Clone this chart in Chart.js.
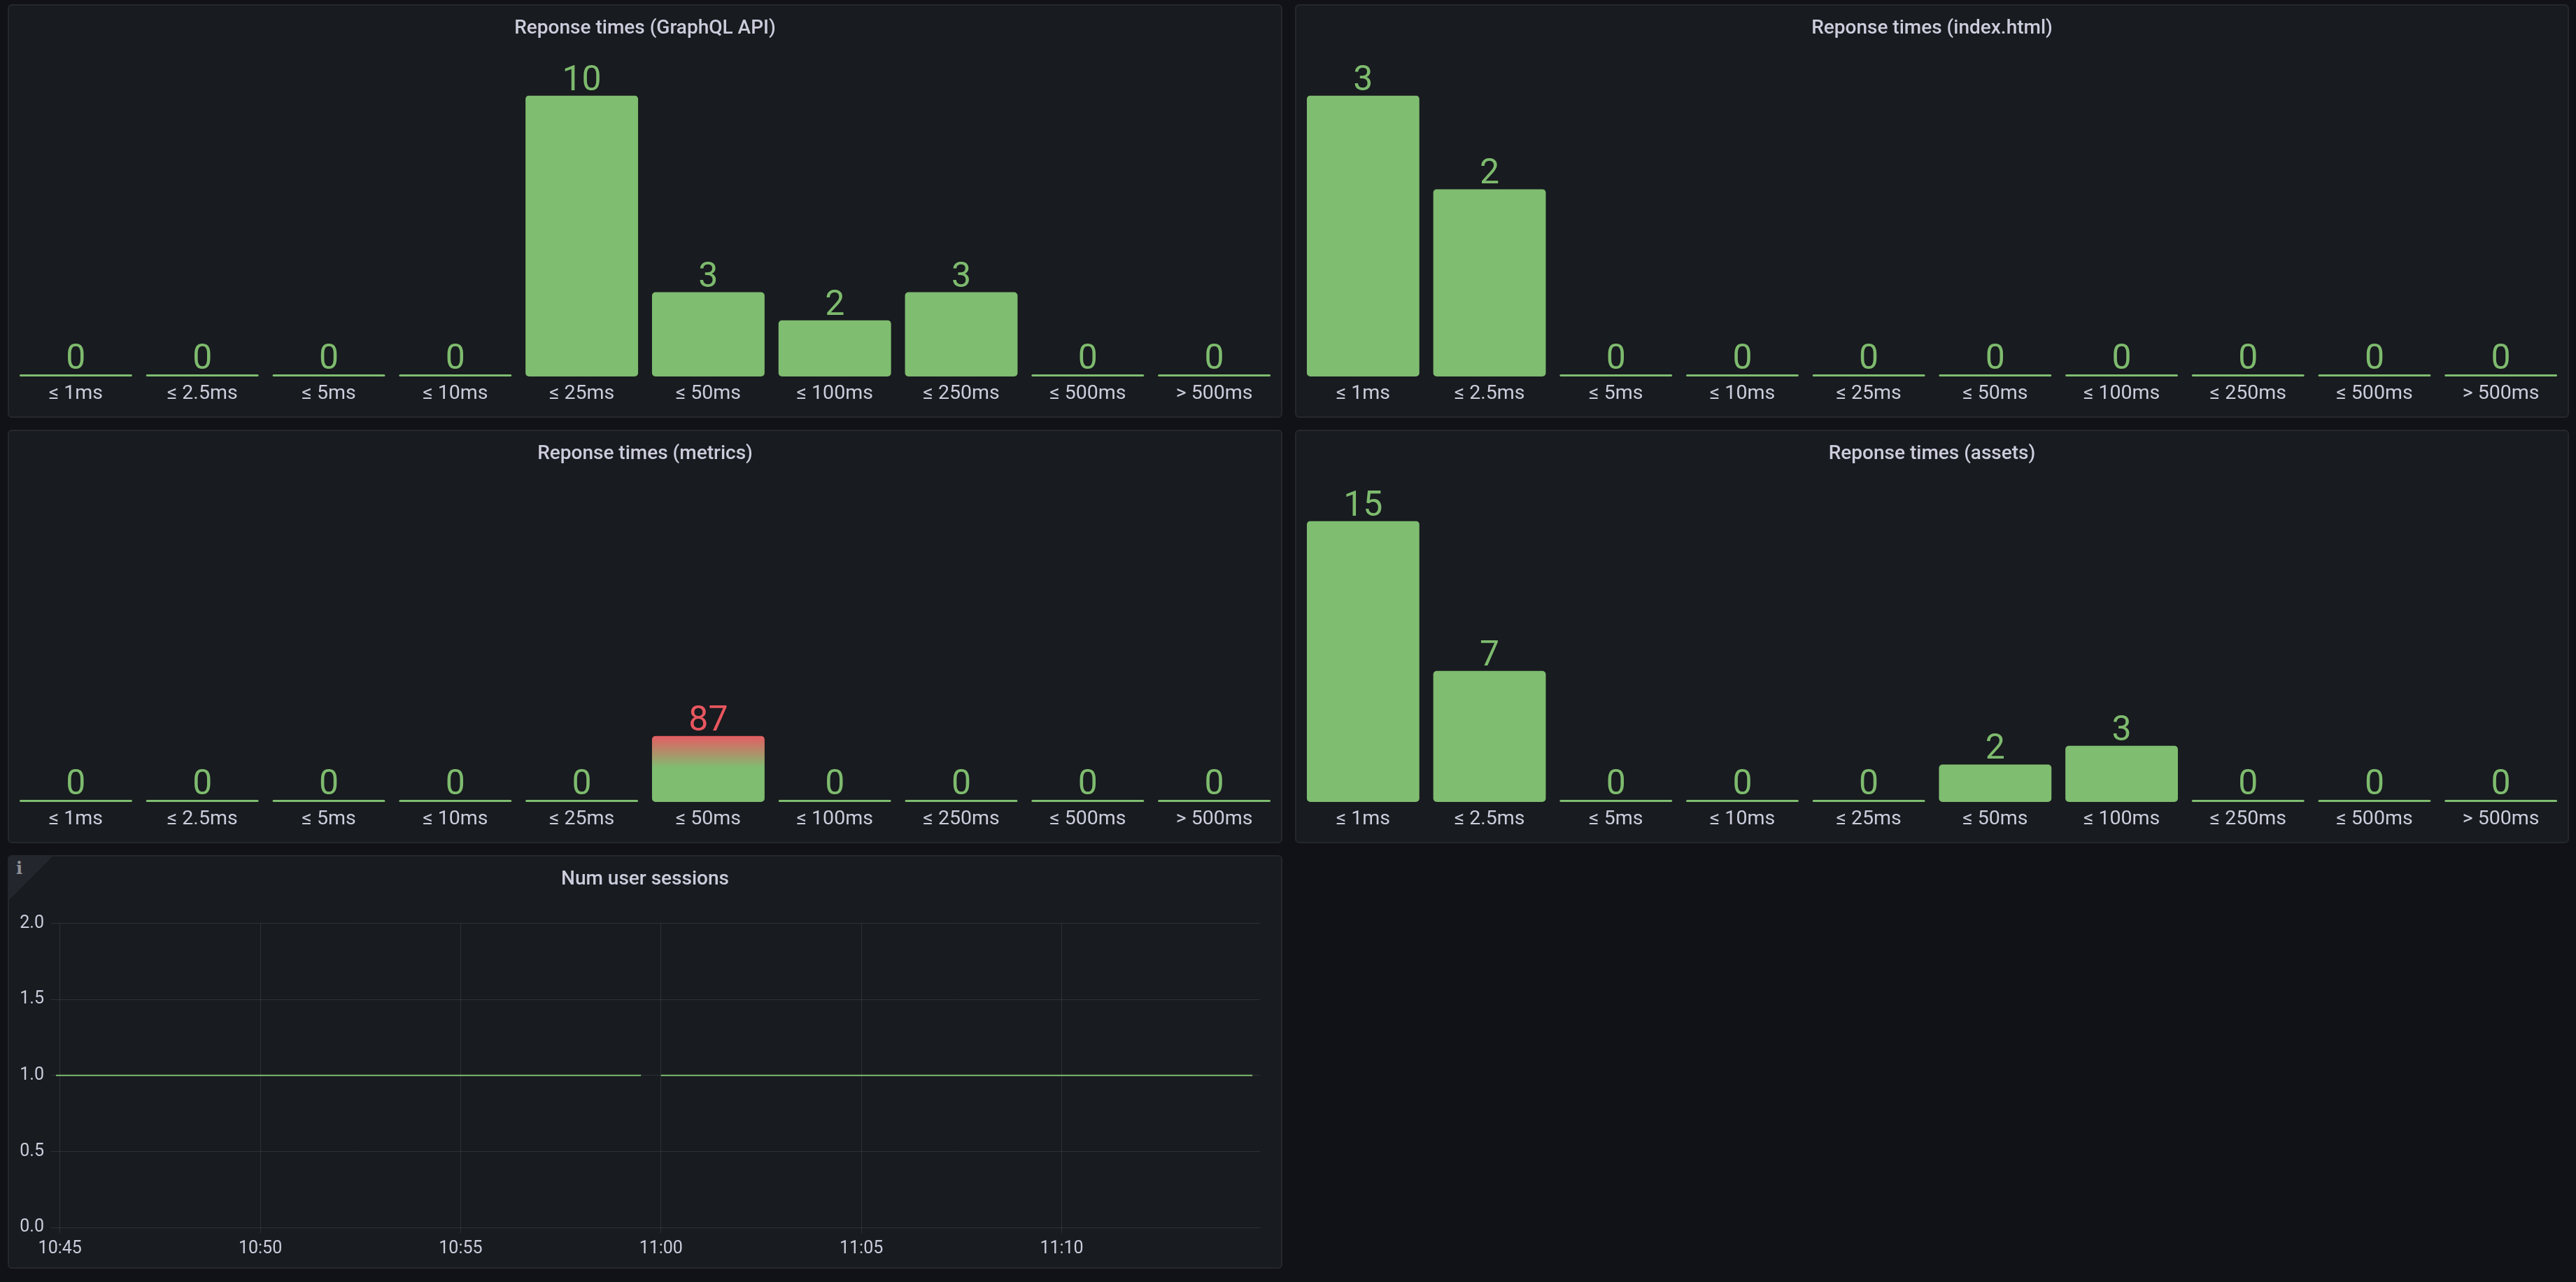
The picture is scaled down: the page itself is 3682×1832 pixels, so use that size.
<!DOCTYPE html>
<html>
<head>
<meta charset="utf-8">
<title>Reponse times</title>
<script src="https://cdn.jsdelivr.net/npm/chart.js@4/dist/chart.umd.min.js"></script>
<style>
  html, body { margin: 0; padding: 0; background: #111217; width: 3682px; height: 1832px; overflow: hidden; }
  .panel { position: absolute; box-sizing: border-box; width: 1822px; height: 591px; background: #181b1f; border: 2px solid #24272c; border-radius: 6px; }
  .panel canvas { position: absolute; left: -2px; top: -2px; }
  .corner { position: absolute; left: -2px; top: -2px; width: 66px; height: 66px; background: #23262d; clip-path: polygon(0 0, 100% 0, 0 100%); border-top-left-radius: 6px; }
  .corner span { position: absolute; left: 12px; top: 4px; font: bold 24px "DejaVu Serif", serif; color: #8e9095; }
</style>
</head>
<body>
<div class="panel" style="left:11px;top:6px"><canvas id="graphql" width="1822" height="591"></canvas></div>
<div class="panel" style="left:1851px;top:6px;width:1821px"><canvas id="indexhtml" width="1821" height="591"></canvas></div>
<div class="panel" style="left:11px;top:614px"><canvas id="metrics" width="1822" height="591"></canvas></div>
<div class="panel" style="left:1851px;top:614px;width:1821px"><canvas id="assets" width="1821" height="591"></canvas></div>
<div class="panel" style="left:11px;top:1222px"><canvas id="sessions" width="1822" height="591"></canvas><div class="corner"><span>i</span></div></div>

<script>
var buckets = ['≤ 1ms', '≤ 2.5ms', '≤ 5ms', '≤ 10ms', '≤ 25ms', '≤ 50ms', '≤ 100ms', '≤ 250ms', '≤ 500ms', '> 500ms'];

var graphqlValues = [0, 0, 0, 0, 10, 3, 2, 3, 0, 0];
var indexValues   = [3, 2, 0, 0, 0, 0, 0, 0, 0, 0];
var metricsValues = [0, 0, 0, 0, 0, 87, 0, 0, 0, 0];
var assetsValues  = [15, 7, 0, 0, 0, 2, 3, 0, 0, 0];

// minutes after 10:00, the gap is the null
var sessionMinutes = [44.9, 59.5, 59.75, 60, 74.76];
var sessionValues  = [1, 1, null, 1, 1];
var timeTicks  = [45, 50, 55, 60, 65, 70];
var timeLabels = ['10:45', '10:50', '10:55', '11:00', '11:05', '11:10'];
var sessionTicks = [0, 0.5, 1, 1.5, 2];

var GREEN = '#7fbd70', GREEN_TEXT = '#7ebb6e', RED = '#e55d63', RED_TEXT = '#e8565f';
var TEXT = '#ccccdc', FONT = 'Roboto';
var GRID = 'rgba(240,250,255,0.1)';
var RED_FROM = 50; // threshold

// value above each bar
var valueLabels = {
  id: 'valueLabels',
  afterDatasetsDraw: function(chart) {
    var c = chart.ctx, meta = chart.getDatasetMeta(0), values = chart.data.datasets[0].data;
    c.save();
    c.font = '50px ' + FONT;
    c.textAlign = 'center';
    c.textBaseline = 'alphabetic';
    meta.data.forEach(function(bar, i) {
      c.fillStyle = values[i] >= RED_FROM ? RED_TEXT : GREEN_TEXT;
      c.fillText(values[i], bar.x, bar.y - 8);
    });
    c.restore();
  }
};

function barColor(ctx) {
  var value = ctx.raw, chart = ctx.chart;
  if (value < RED_FROM) return GREEN;
  var y = chart.scales.y;
  var g = chart.ctx.createLinearGradient(0, y.getPixelForValue(0), 0, y.getPixelForValue(value));
  g.addColorStop(0, GREEN);
  g.addColorStop(0.52, GREEN);
  g.addColorStop(1, RED);
  return g;
}

function barChart(id, title, values, max) {
  return new Chart(document.getElementById(id), {
    type: 'bar',
    data: {
      labels: buckets,
      datasets: [{
        data: values,
        backgroundColor: barColor,
        barPercentage: 0.89,
        categoryPercentage: 1,
        borderRadius: 5,
        borderSkipped: false,
        minBarLength: 3
      }]
    },
    options: {
      responsive: false,
      animation: false,
      layout: { padding: { left: 7, right: 7 } },
      plugins: {
        legend: { display: false },
        tooltip: { enabled: false },
        title: {
          display: true, text: title, color: TEXT,
          font: { family: FONT, size: 28, weight: '500', lineHeight: 1.2 },
          padding: { top: 18, bottom: 79 }
        }
      },
      scales: {
        x: {
          grid: { display: false },
          border: { display: false },
          ticks: { color: TEXT, font: { family: FONT, size: 28.5 }, autoSkip: false, maxRotation: 0, padding: 0 },
          afterFit: function(scale) { scale.height = 59; }
        },
        y: { display: false, min: 0, max: max }
      }
    },
    plugins: [valueLabels]
  });
}

barChart('graphql', 'Reponse times (GraphQL API)', graphqlValues, 10);
barChart('indexhtml', 'Reponse times (index.html)', indexValues, 3);
barChart('metrics', 'Reponse times (metrics)', metricsValues, 371);
barChart('assets', 'Reponse times (assets)', assetsValues, 15);

new Chart(document.getElementById('sessions'), {
  type: 'line',
  data: {
    datasets: [{
      data: sessionMinutes.map(function(m, i) { return { x: m, y: sessionValues[i] }; }),
      borderColor: GREEN_TEXT,
      borderWidth: 2,
      pointRadius: 0,
      tension: 0,
      spanGaps: false
    }]
  },
  options: {
    responsive: false,
    animation: false,
    plugins: {
      legend: { display: false },
      tooltip: { enabled: false },
      title: {
        display: true, text: 'Num user sessions', color: TEXT,
        font: { family: FONT, size: 28, weight: '500', lineHeight: 1.2 },
        padding: { top: 18, bottom: 46 }
      }
    },
    scales: {
      x: {
        type: 'linear', min: 44.9, max: 74.95,
        afterBuildTicks: function(scale) { scale.ticks = timeTicks.map(function(v) { return { value: v }; }); },
        grid: { color: GRID, tickLength: 8 },
        border: { display: false },
        ticks: {
          color: TEXT, font: { family: FONT, size: 25 }, maxRotation: 0, autoSkip: false, padding: 8,
          callback: function(v) { return timeLabels[timeTicks.indexOf(v)]; }
        },
        afterFit: function(scale) { scale.height = 59; }
      },
      y: {
        min: 0, max: 2,
        afterBuildTicks: function(scale) { scale.ticks = sessionTicks.map(function(v) { return { value: v }; }); },
        grid: { color: GRID, tickLength: 7 },
        border: { display: false },
        ticks: {
          color: TEXT, font: { family: FONT, size: 25 }, padding: 10,
          callback: function(v) { return v.toFixed(1); }
        },
        afterFit: function(scale) { scale.width = 69; }
      },
      // empty axis, keeps the margin right of the plot and the title centred on the panel
      right: {
        position: 'right',
        grid: { display: false },
        border: { display: false },
        ticks: { display: false },
        afterFit: function(scale) { scale.width = 32; }
      }
    }
  }
});
</script>
</body>
</html>
